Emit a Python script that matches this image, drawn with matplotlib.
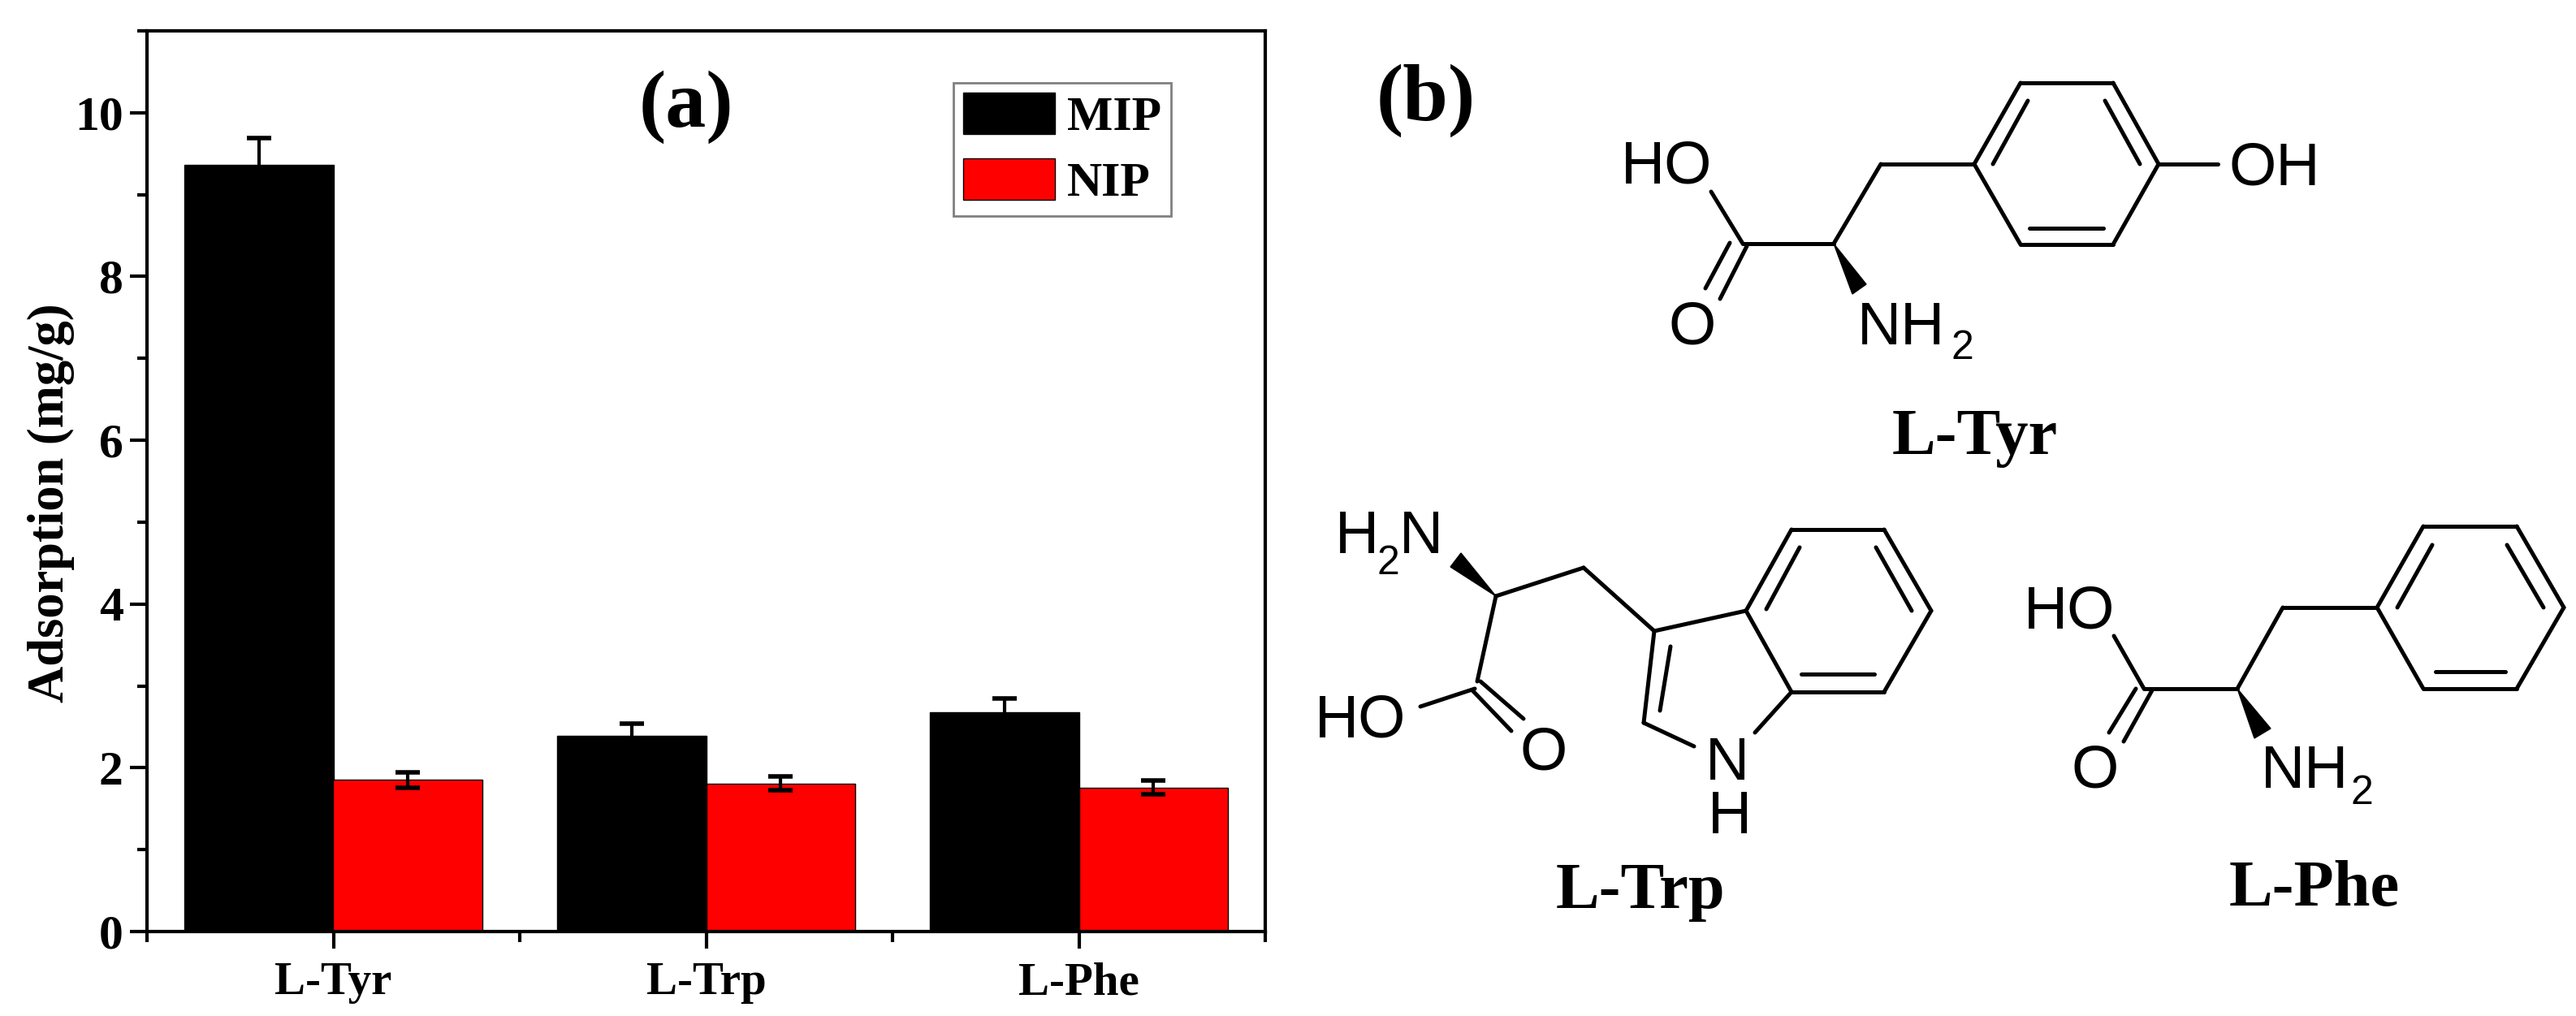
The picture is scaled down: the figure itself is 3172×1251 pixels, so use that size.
import matplotlib
matplotlib.use('Agg')
import matplotlib.pyplot as plt
from matplotlib.patches import Polygon
from matplotlib.ticker import MultipleLocator
import numpy as np

plt.rcParams['font.family'] = ['Liberation Serif', 'DejaVu Serif']
plt.rcParams['font.weight'] = 'bold'

# chart values
categories = ['L-Tyr', 'L-Trp', 'L-Phe']
mip_values = [9.36, 2.39, 2.68]
nip_values = [1.85, 1.81, 1.76]
mip_errors = [0.33, 0.15, 0.17]
nip_errors = [0.09, 0.08, 0.08]

# structure drawings, in image pixels
tyr_bonds = [
    ((2488, 102), (2602, 102)), ((2602, 102), (2658, 202)), ((2658, 202), (2602, 301)),
    ((2602, 301), (2488, 301)), ((2488, 301), (2431, 202)), ((2431, 202), (2488, 102)),
    ((2497, 124), (2454, 202)), ((2592, 124), (2635, 202)), ((2499, 281), (2590, 281)),
    ((2658, 202), (2731, 202)), ((2316, 202), (2431, 202)), ((2316, 202), (2258, 300)),
    ((2258, 300), (2146, 300)), ((2146, 300), (2107, 236)),
    ((2130, 299), (2100, 355)), ((2151, 303), (2118, 368)),
]
tyr_wedge = [(2258, 300), (2281, 362), (2298, 350)]
tyr_atoms = [(2801, 200, 'OH'), (2052, 199, 'HO'), (2084, 397, 'O'), (2341, 397, 'NH')]
tyr_subs = [(2416, 424)]

trp_bonds = [
    ((2206, 652), (2320, 652)), ((2320, 652), (2378, 752)), ((2378, 752), (2320, 852)),
    ((2320, 852), (2206, 852)), ((2206, 852), (2150, 752)), ((2150, 752), (2206, 652)),
    ((2216, 674), (2175, 750)), ((2310, 674), (2354, 752)), ((2218, 830), (2308, 830)),
    ((2150, 752), (2037, 777)), ((2037, 777), (2024, 890)), ((2057, 796), (2044, 875)),
    ((2024, 890), (2086, 919)), ((2206, 852), (2161, 902)),
    ((2037, 777), (1950, 699)), ((1950, 699), (1842, 734)), ((1842, 734), (1819, 839)),
    ((1816, 848), (1749, 870)), ((1823, 839), (1876, 885)), ((1813, 850), (1861, 900)),
]
trp_wedge = [(1842, 734), (1786, 698), (1799, 681)]
trp_atoms = [(2127, 933, 'N'), (2130, 999, 'H'), (1671, 654, 'H'), (1750, 654, 'N'),
             (1675, 880, 'HO'), (1901, 920, 'O')]
trp_subs = [(1709, 689)]

phe_bonds = [
    ((2984, 648), (3099, 648)), ((3099, 648), (3157, 748)), ((3157, 748), (3099, 848)),
    ((3099, 848), (2984, 848)), ((2984, 848), (2927, 748)), ((2927, 748), (2984, 648)),
    ((2995, 671), (2952, 748)), ((3087, 671), (3132, 748)), ((2999, 827), (3085, 827)),
    ((2811, 748), (2927, 748)), ((2811, 748), (2755, 848)), ((2755, 848), (2640, 848)),
    ((2640, 848), (2603, 783)), ((2630, 848), (2597, 902)), ((2650, 850), (2615, 913)),
]
phe_wedge = [(2755, 848), (2776, 909), (2796, 897)]
phe_atoms = [(2548, 746, 'HO'), (2580, 943, 'O'), (2838, 943, 'NH')]
phe_subs = [(2908, 972)]

molecule_labels = [(2432, 531, 'L-Tyr'), (2020, 1090, 'L-Trp'), (2850, 1087, 'L-Phe')]


def draw_molecule(ax, bonds, wedge, atoms, subs):
    for start, end in bonds:
        ax.plot([start[0], end[0]], [start[1], end[1]], color='black',
                linewidth=3.6, solid_capstyle='round')
    ax.add_patch(Polygon(wedge, closed=True, facecolor='black', edgecolor='black', linewidth=1))
    for x, y, label in atoms:
        ax.text(x, y, label, family='Liberation Sans', fontweight='normal',
                fontsize=54, ha='center', va='center_baseline')
    for x, y in subs:
        ax.text(x, y, '2', family='Liberation Sans', fontweight='normal',
                fontsize=36, ha='center', va='center_baseline')


fig = plt.figure(figsize=(31.72, 12.51), dpi=100, facecolor='white')
W, H = 3172, 1251
left, right, top, bottom = 181, 1558, 38, 1147
ax = fig.add_axes([left / W, 1 - bottom / H, (right - left) / W, (bottom - top) / H])

x = np.arange(1, len(categories) + 1)
bar_width = 0.4
error_style = {'ecolor': 'black', 'elinewidth': 3, 'capsize': 11, 'capthick': 4}
ax.bar(x - bar_width / 2, mip_values, bar_width, yerr=mip_errors, color='black',
       edgecolor='black', linewidth=1, label='MIP', error_kw=error_style)
ax.bar(x + bar_width / 2, nip_values, bar_width, yerr=nip_errors, color='#ff0000',
       edgecolor='black', linewidth=1, label='NIP', error_kw=error_style)

ax.set_xlim(0.5, 3.5)
ax.set_ylim(0, 11)
ax.set_xticks(x)
ax.set_xticklabels(categories, fontsize=41)
ax.xaxis.set_minor_locator(MultipleLocator(1, offset=0.5))
ax.yaxis.set_major_locator(MultipleLocator(2))
ax.yaxis.set_minor_locator(MultipleLocator(1))
ax.tick_params(axis='y', which='major', labelsize=43, length=15, width=3, pad=6)
ax.tick_params(axis='x', which='major', length=15, width=3, pad=12)
ax.tick_params(which='minor', length=9, width=3)
ax.set_ylabel('Adsorption (mg/g)', fontsize=45, fontweight='bold')
ax.yaxis.set_label_coords((92 - left) / (right - left), 1 - (619 - top) / (bottom - top))
for spine in ax.spines.values():
    spine.set_linewidth(3)

leg = ax.legend(loc='upper left', bbox_to_anchor=((1174 - left) / (right - left), 1 - (102 - top) / (bottom - top)),
                frameon=True, fancybox=False, edgecolor='#808080', framealpha=1,
                handlelength=1.9, handleheight=0.95, handletextpad=0.25, labelspacing=0.36,
                borderpad=0.2, borderaxespad=0, prop={'size': 43, 'weight': 'bold'})
leg.get_frame().set_linewidth(2)

# overlay in image pixels for panel letters and structures
over = fig.add_axes([0, 0, 1, 1], facecolor='none')
over.set_xlim(0, W)
over.set_ylim(H, 0)
over.axis('off')

over.text(845, 132, '(a)', fontsize=72, ha='center', va='center')
over.text(1756, 124, '(b)', fontsize=72, ha='center', va='center')

draw_molecule(over, tyr_bonds, tyr_wedge, tyr_atoms, tyr_subs)
draw_molecule(over, trp_bonds, trp_wedge, trp_atoms, trp_subs)
draw_molecule(over, phe_bonds, phe_wedge, phe_atoms, phe_subs)
for px, py, label in molecule_labels:
    over.text(px, py, label, fontsize=58, ha='center', va='center_baseline')

fig.savefig('out.png', dpi=100, facecolor='white')
